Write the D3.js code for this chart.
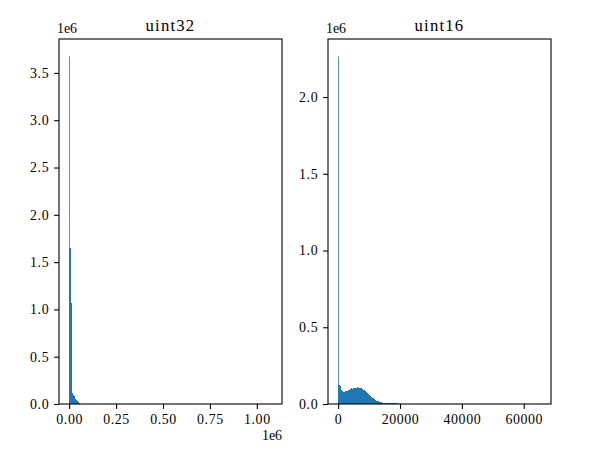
<!DOCTYPE html>
<html><head><meta charset="utf-8">
<script src="https://cdn.jsdelivr.net/npm/d3@7/dist/d3.min.js"></script>
<style>
html,body{margin:0;padding:0;background:#fff;}
svg text{font-family:"Liberation Serif","DejaVu Serif",serif;fill:#000;}
</style></head>
<body>
<svg id="chart" width="600" height="452"></svg>
<script>
// ---- data ----
const titles = ["uint32", "uint16"];
// value range of each histogram (min, max of the data)
const uint32Range = [0, 1080000];
const uint16Range = [0, 65535];
const binCount = 256;
// counts per bin (leading bins; remaining bins are ~0)
const uint32Counts = [3675000, 1650000, 1070000, 220000, 120000, 100000, 80000, 60000, 50000, 40000, 30000, 20000, 12000, 6000];
const uint16Counts = [2265000, 124000, 118000, 100000, 88000, 83000, 81000, 80000, 81000, 82000,
  83000, 84000, 86000, 88000, 90000, 93000, 97000, 103000, 99000, 100000,
  106000, 102000, 104000, 105000, 108000, 103000, 104000, 102000, 107000, 101000,
  99000, 96000, 93000, 89000, 85000, 80000, 75000, 71000, 66000, 60000,
  55000, 50000, 45000, 40000, 36000, 32000, 28000, 25000, 22000, 20000,
  18000, 16000, 14000, 12000, 11000, 10000, 9000, 8000, 7000, 7000,
  6000, 6000, 5500, 5000, 5000, 4500, 4500, 4000, 4000, 4000,
  4000, 3500, 3500, 3500, 3500, 3000, 3000, 3000, 3000, 3000,
  3000, 2500, 2500, 2500, 2500, 2000];
const uint32XTicks = [0, 250000, 500000, 750000, 1000000];
const uint16XTicks = [0, 20000, 40000, 60000];
const uint32YTicks = [0, 500000, 1000000, 1500000, 2000000, 2500000, 3000000, 3500000];
const uint16YTicks = [0, 500000, 1000000, 1500000, 2000000];

const svg = d3.select("#chart");
const color = "#1f77b4";
const plotTop = 39, plotBottom = 404;
const panels = [
  {x0: 59, x1: 282, range: uint32Range, counts: uint32Counts, xticks: uint32XTicks, yticks: uint32YTicks,
   xfmt: d => (d / 1e6).toFixed(2), xOffset: true, title: titles[0]},
  {x0: 328, x1: 551, range: uint16Range, counts: uint16Counts, xticks: uint16XTicks, yticks: uint16YTicks,
   xfmt: d => String(d), xOffset: false, title: titles[1]}
];

panels.forEach((p, pi) => {
  const span = p.range[1] - p.range[0];
  const xs = d3.scaleLinear().domain([p.range[0] - 0.05 * span, p.range[1] + 0.05 * span]).range([p.x0, p.x1]);
  const maxC = d3.max(p.counts);
  const ys = d3.scaleLinear().domain([0, maxC * 1.05]).range([plotBottom, plotTop]);
  const w = span / binCount;
  const ov = 0.6; // overlap to hide seams between adjacent bins

  const g = svg.append("g");
  const clipId = "clip" + pi;
  svg.append("clipPath").attr("id", clipId).append("rect")
    .attr("x", p.x0).attr("y", plotTop).attr("width", p.x1 - p.x0).attr("height", plotBottom - plotTop);

  g.append("g").attr("clip-path", `url(#${clipId})`)
    .selectAll("rect").data(p.counts).join("rect")
    .attr("x", (d, i) => xs(p.range[0] + i * w) - (i > 0 ? ov : 0))
    .attr("width", (d, i) => xs(p.range[0] + (i + 1) * w) - xs(p.range[0] + i * w) + (i > 0 ? ov : 0))
    .attr("y", d => ys(d))
    .attr("height", d => ys(0) - ys(d))
    .attr("shape-rendering", (d, i) => i > 0 ? "crispEdges" : "auto")
    .attr("fill", color);

  const xAxis = d3.axisBottom(xs).tickValues(p.xticks).tickFormat(p.xfmt).tickSize(4.9).tickPadding(4.9);
  const xg = g.append("g").attr("transform", `translate(0,${plotBottom})`).call(xAxis);
  const yAxis = d3.axisLeft(ys).tickValues(p.yticks).tickFormat(d => (d / 1e6).toFixed(1)).tickSize(4.9).tickPadding(4.9);
  const yg = g.append("g").attr("transform", `translate(${p.x0},0)`).call(yAxis);
  [xg, yg].forEach(a => {
    a.select(".domain").remove();
    a.selectAll(".tick line").attr("stroke", "#000").attr("stroke-width", 1.1);
    a.selectAll(".tick text").attr("font-size", 13.9).attr("font-family", "Liberation Serif, serif").attr("letter-spacing", 0.6);
  });

  g.append("rect").attr("x", p.x0).attr("y", plotTop).attr("width", p.x1 - p.x0).attr("height", plotBottom - plotTop)
    .attr("fill", "none").attr("stroke", "#000").attr("stroke-width", 1.1);

  g.append("text").attr("x", (p.x0 + p.x1) / 2).attr("y", 30.5).attr("text-anchor", "middle")
    .attr("font-size", 16.7).attr("letter-spacing", 1.2).text(p.title);
  g.append("text").attr("x", p.x0 - 2).attr("y", 33).attr("font-size", 13.9).text("1e6");
  if (p.xOffset) {
    g.append("text").attr("x", p.x1).attr("y", 440).attr("text-anchor", "end").attr("font-size", 13.9).text("1e6");
  }
});
</script>
</body></html>
